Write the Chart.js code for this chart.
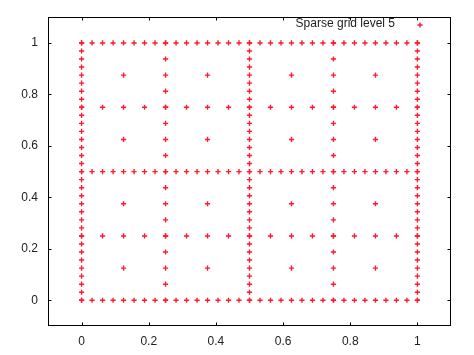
<!DOCTYPE html>
<html>
<head>
<meta charset="utf-8">
<script src="https://cdn.jsdelivr.net/npm/chart.js@4.4.1/dist/chart.umd.min.js"></script>
<style>
html,body{margin:0;padding:0;background:#fff;}
#wrap{width:474px;height:355px;}
</style>
</head>
<body>
<div id="wrap"><canvas id="c" width="474" height="355"></canvas></div>
<script>
// Point coordinate levels
const seriesLabel = "Sparse grid level 5";
const fineLevel = [0, 0.03125, 0.0625, 0.09375, 0.125, 0.15625, 0.1875, 0.21875, 0.25, 0.28125, 0.3125, 0.34375, 0.375, 0.40625, 0.4375, 0.46875, 0.5, 0.53125, 0.5625, 0.59375, 0.625, 0.65625, 0.6875, 0.71875, 0.75, 0.78125, 0.8125, 0.84375, 0.875, 0.90625, 0.9375, 0.96875, 1];
const mediumLevel = [0, 0.0625, 0.125, 0.1875, 0.25, 0.3125, 0.375, 0.4375, 0.5, 0.5625, 0.625, 0.6875, 0.75, 0.8125, 0.875, 0.9375, 1];
const coarseLines = [0, 0.5, 1];
const midLines = [0.25, 0.75];
const centerPoints = [0.125, 0.375, 0.625, 0.875];
const xTicks = [0, 0.2, 0.4, 0.6, 0.8, 1];
const yTicks = [0, 0.2, 0.4, 0.6, 0.8, 1];
const xTickLabels = ["0", "0.2", "0.4", "0.6", "0.8", "1"];
const yTickLabels = ["0", "0.2", "0.4", "0.6", "0.8", "1"];

const pts = [];
coarseLines.forEach(c => fineLevel.forEach(v => { pts.push({x: c, y: v}); pts.push({x: v, y: c}); }));
midLines.forEach(c => mediumLevel.forEach(v => { pts.push({x: c, y: v}); pts.push({x: v, y: c}); }));
centerPoints.forEach(a => centerPoints.forEach(b => pts.push({x: a, y: b})));

const FAMILY = '"Liberation Sans", Arial, sans-serif';
const RED = '#ff1a2e';

const framePlugin = {
  id: 'frame',
  afterDraw(chart) {
    const ctx = chart.ctx, a = chart.chartArea;
    const xs = chart.scales.x, ys = chart.scales.y;
    ctx.save();
    ctx.strokeStyle = '#000';
    ctx.lineWidth = 1;
    const L = Math.round(a.left) + 0.5, R = Math.round(a.right) - 0.5;
    const T = Math.round(a.top) + 0.5, B = Math.round(a.bottom) - 0.5;
    ctx.strokeRect(L, T, R - L, B - T);
    ctx.beginPath();
    xTicks.forEach(v => {
      const px = Math.round(xs.getPixelForValue(v)) + 0.5;
      ctx.moveTo(px, B); ctx.lineTo(px, B - 3);
      ctx.moveTo(px, T); ctx.lineTo(px, T + 3);
    });
    yTicks.forEach(v => {
      const py = Math.round(ys.getPixelForValue(v)) + 0.5;
      ctx.moveTo(L, py); ctx.lineTo(L + 3, py);
      ctx.moveTo(R, py); ctx.lineTo(R - 3, py);
    });
    ctx.stroke();
    // legend
    ctx.fillStyle = '#222';
    ctx.font = '12px ' + FAMILY;
    ctx.textAlign = 'right';
    ctx.textBaseline = 'middle';
    ctx.fillText(seriesLabel, 395, 24);
    ctx.strokeStyle = RED;
    ctx.fillStyle = RED;
    ctx.lineWidth = 1.4;
    Chart.helpers.drawPoint(ctx, { pointStyle: 'cross', radius: 2.6, borderWidth: 1.4, rotation: 0 }, 420, 25);
    ctx.restore();
  }
};

new Chart(document.getElementById('c'), {
  type: 'scatter',
  data: {
    datasets: [{
      label: seriesLabel,
      data: pts,
      pointStyle: 'cross',
      pointRadius: 2.6,
      pointHoverRadius: 2.6,
      borderColor: RED,
      backgroundColor: RED,
      pointBorderColor: RED,
      pointBackgroundColor: RED,
      pointBorderWidth: 1.4,
      borderWidth: 1.4,
      showLine: false
    }]
  },
  options: {
    responsive: false,
    animation: false,
    events: [],
    layout: { padding: { left: 0, right: 23, top: 15, bottom: 0 } },
    plugins: { legend: { display: false }, tooltip: { enabled: false } },
    scales: {
      x: {
        type: 'linear', min: -0.1, max: 1.1,
        afterBuildTicks: s => { s.ticks = xTicks.map(v => ({value: v})); },
        afterFit: s => { s.height = 29; },
        grid: { display: false, drawTicks: false },
        border: { display: false },
        ticks: {
          padding: 8, color: '#222', font: { family: FAMILY, size: 12 },
          maxRotation: 0, autoSkip: false,
          callback: (v, i) => xTickLabels[i]
        }
      },
      y: {
        type: 'linear', min: -0.1, max: 1.1,
        afterBuildTicks: s => { s.ticks = yTicks.map(v => ({value: v})); },
        afterFit: s => { s.width = 48; },
        grid: { display: false, drawTicks: false },
        border: { display: false },
        ticks: {
          padding: 10, color: '#222', font: { family: FAMILY, size: 12 },
          autoSkip: false,
          callback: (v, i) => yTickLabels[i]
        }
      }
    }
  },
  plugins: [framePlugin]
});
</script>
</body>
</html>
